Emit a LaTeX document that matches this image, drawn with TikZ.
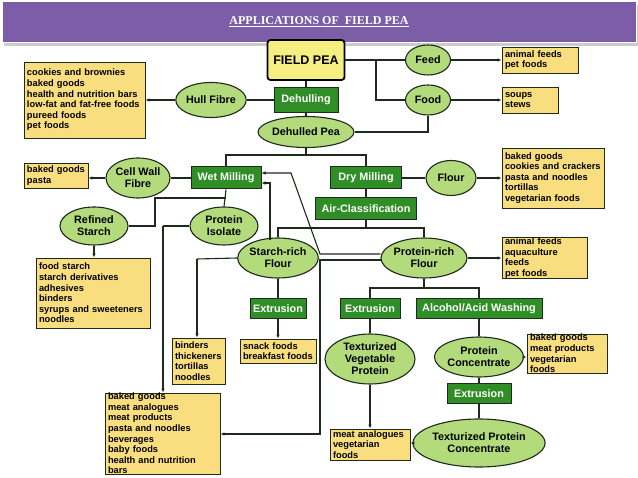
\documentclass[tikz,border=0pt]{standalone}
\usepackage{fontspec}
\setmainfont{Liberation Sans}
\usetikzlibrary{shapes.geometric,arrows.meta,calc}
\definecolor{purp}{HTML}{7B5EA7}
\definecolor{elf}{HTML}{B3DB7C}
\definecolor{grn}{HTML}{2F8F26}
\definecolor{ybx}{HTML}{F8DE7E}
\definecolor{fpy}{HTML}{F5EE80}
\definecolor{dk}{HTML}{1E2A1E}
\begin{document}
\begin{tikzpicture}[x=1pt,y=-1pt,
  el/.style={ellipse,draw=dk,line width=1.1pt,fill=elf,inner sep=0pt,align=center,font=\bfseries\fontsize{10.8}{12}\selectfont},
  gr/.style={rectangle,draw=dk,line width=1pt,fill=grn,text=white,inner sep=0pt,font=\bfseries\fontsize{10.8}{12}\selectfont},
  bx/.style={rectangle,draw=dk,line width=0.9pt,fill=ybx,inner xsep=3pt,inner ysep=0pt,align=left,font=\bfseries\fontsize{9.3}{10.6}\selectfont},
  ln/.style={draw=dk,line width=1.1pt},
  ar/.style={ln,-{Latex[length=4pt,width=3.5pt]}}]
\useasboundingbox (0,0) rectangle (638,478);
\fill[white] (0,0) rectangle (638,478);
% title
\fill[gray!40] (4,5) rectangle (638,46);
\node[fill=purp,draw=white,line width=0.8pt,minimum width=634pt,minimum height=41pt,inner sep=0pt] (title) at (319,22) {};
\node[text=white,font=\fontspec{Liberation Serif}\bfseries\fontsize{12}{13}\selectfont] (tt) at (319,22) {\underline{APPLICATIONS OF\ \ FIELD PEA}};
% nodes
\node[rectangle,rounded corners=3pt,draw=black,line width=1.8pt,fill=fpy,minimum width=77pt,minimum height=40pt,font=\bfseries\fontsize{12.5}{13}\selectfont] (fp) at (306,60) {FIELD PEA};
\node[el,minimum width=45pt,minimum height=30pt] (feed) at (428,60) {Feed};
\node[el,minimum width=45pt,minimum height=30pt] (food) at (428,100) {Food};
\node[bx,minimum width=76pt,minimum height=26pt,text width=70pt] (b1) at (540,60) {animal feeds\\pet foods};
\node[bx,minimum width=56pt,minimum height=26pt,text width=50pt] (b2) at (530,100) {soups\\stews};
\node[gr,minimum width=64pt,minimum height=25pt] (deh) at (306,100) {Dehulling};
\node[el,minimum width=62pt,minimum height=35pt] (hull) at (211,100) {Hull Fibre};
\node[bx,minimum width=121pt,minimum height=76pt,text width=115pt] (b3) at (84.5,100) {cookies and brownies\\baked goods\\health and nutrition bars\\low-fat and fat-free foods\\pureed foods\\pet foods};
\node[el,minimum width=82pt,minimum height=31pt] (dp) at (306,132) {Dehulled Pea};
\node[gr,minimum width=70pt,minimum height=22pt] (wm) at (226,178) {Wet Milling};
\node[gr,minimum width=71pt,minimum height=22pt] (dm) at (366,178) {Dry Milling};
\node[el,minimum width=64pt,minimum height=40pt] (cw) at (138,178) {Cell Wall\\Fibre};
\node[bx,minimum width=64pt,minimum height=25pt,text width=58pt] (b4) at (56,175.5) {baked goods\\pasta};
\node[el,minimum width=50pt,minimum height=35pt] (fl) at (451,178) {Flour};
\node[bx,minimum width=102pt,minimum height=60pt,text width=96pt] (b5) at (553,178) {baked goods\\cookies and crackers\\pasta and noodles\\tortillas\\vegetarian foods};
\node[gr,minimum width=101pt,minimum height=22pt] (ac) at (366,209) {Air-Classification};
\node[el,minimum width=68pt,minimum height=38pt] (rs) at (94,226) {Refined\\Starch};
\node[el,minimum width=68pt,minimum height=38pt] (pi) at (224,226) {Protein\\Isolate};
\node[bx,minimum width=114pt,minimum height=70pt,text width=108pt] (b6) at (93,293) {food starch\\starch derivatives\\adhesives\\binders\\syrups and sweeteners\\noodles};
\node[el,minimum width=76pt,minimum height=40pt] (sr) at (278,258) {Starch-rich\\Flour};
\node[el,minimum width=86pt,minimum height=40pt] (pr) at (424,258) {Protein-rich\\Flour};
\node[bx,minimum width=85pt,minimum height=40pt,text width=79pt] (b7) at (544.5,258) {animal feeds\\aquaculture feeds\\pet foods};
\node[gr,minimum width=56pt,minimum height=20pt] (ex1) at (278,309) {Extrusion};
\node[gr,minimum width=60pt,minimum height=20pt] (ex2) at (370,309) {Extrusion};
\node[gr,minimum width=126pt,minimum height=20pt] (aa) at (479,309) {Alcohol/Acid Washing};
\node[bx,minimum width=53pt,minimum height=46pt,text width=47pt] (b8) at (198.5,361) {binders\\thickeners\\tortillas\\noodles};
\node[bx,minimum width=76pt,minimum height=24pt,text width=70pt] (b9) at (278,351) {snack foods\\breakfast foods};
\node[el,minimum width=90pt,minimum height=50pt] (tvp) at (370,359) {Texturized\\Vegetable\\Protein};
\node[el,minimum width=76pt,minimum height=40pt] (pc) at (479,357) {Protein\\Concentrate};
\node[bx,minimum width=80pt,minimum height=39pt,text width=74pt] (b10) at (567,353.5) {baked goods\\meat products\\vegetarian foods};
\node[gr,minimum width=64pt,minimum height=20pt] (ex3) at (479,394) {Extrusion};
\node[el,minimum width=106pt,minimum height=48pt] (tpc) at (479,443) {Texturized Protein\\Concentrate};
\node[bx,minimum width=80pt,minimum height=31pt,text width=74pt] (b11) at (370,444.5) {meat analogues\\vegetarian foods};
\node[bx,minimum width=115pt,minimum height=81pt,text width=109pt] (b12) at (162.5,433.5) {baked goods\\meat analogues\\meat products\\pasta and noodles\\beverages\\baby foods\\health and nutrition bars};
% connectors
\coordinate (j1) at (376,60);
\draw[ln] (fp.east) -- (feed.west);
\draw[ln] (j1) |- (food.west);
\draw[ar] (feed.east) -- (b1.west|-feed);
\draw[ar] (food.east) -- (b2.west|-food);
\draw[ln] (fp.south) -- (deh.north);
\draw[ln] (deh.south) -- (dp.north);
\draw[ln] (deh.west) -- (hull.east);
\draw[ar] (hull.west) -- (b3.east|-hull);
\draw[ln] (dp.east) -| (food.south);
\coordinate (j2) at (306,155);
\draw[ln] (dp.south) -- (j2);
\draw[ln] (wm.north) |- (j2) -| (dm.north);
\draw[ln] (wm.west) -- (cw.east);
\draw[ar] (cw.west) -- (b4.east|-cw);
\draw[ln] (dm.east) -- (fl.west);
\draw[ar] (fl.east) -- (b5.west|-fl);
\draw[ln] (dm.south) -- (ac.north);
\coordinate (j3) at (366,228);
\draw[ln] (ac.south) -- (j3);
\draw[ln] (sr.north) |- (j3) -| (pr.north);
\coordinate (j4) at (226,198);
\coordinate (j5) at (155,198);
\draw[ln] (wm.south) -- (pi.north);
\draw[ln] (j4) -- (j5) |- (rs.east);
\draw[ar] (rs.south) -- (b6.north-|rs);
\coordinate (j6) at (163,226);
\draw[ln] (pi.west) -- (j6);
\draw[ar] (j6) -- (b12.north-|j6);
\coordinate (j7) at (270,240);
\draw[ar] (j7) |- ($(wm.east)+(0,5)$);
\coordinate (j8) at (320,254);
\coordinate (j9) at (291,173);
\draw[ar] (pr.west|-j8) -- (j8) -- (j9) -- ($(wm.east)+(0,-5)$);
\coordinate (j10) at (197,259);
\draw[ln] (sr.west) -- (j10);
\draw[ar] (j10) -- (b8.north-|j10);
\draw[ln] (sr.south) -- (ex1.north);
\draw[ar] (ex1.south) -- (b9.north);
\coordinate (j11) at (320,260);
\coordinate (j12) at (320,434);
\draw[ar] ($(pr.west)+(1,2)$) -- (j11) -- (j12) -- (b12.east|-j12);
\draw[ar] (pr.east) -- (b7.west|-pr);
\coordinate (j13) at (424,288);
\draw[ln] (pr.south) -- (j13);
\draw[ln] (ex2.north) |- (j13) -| (aa.north);
\draw[ln] (ex2.south) -- (tvp.north);
\draw[ar] (tvp.south) -- (b11.north);
\draw[ln] (aa.south) -- (pc.north);
\draw[ar] (pc.east) -- (b10.west|-pc);
\draw[ln] (pc.south) -- (ex3.north);
\draw[ln] (ex3.south) -- (tpc.north);
\draw[ar] (tpc.west) -- (b11.east|-tpc);
\end{tikzpicture}
\end{document}
